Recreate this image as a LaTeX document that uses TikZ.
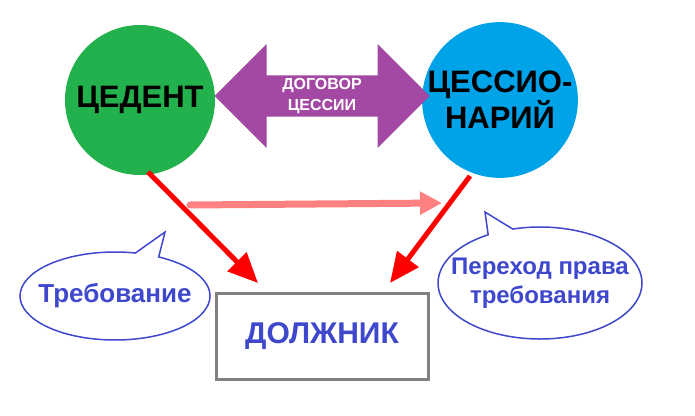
\documentclass[tikz,border=0pt]{standalone}
\usepackage{fontspec}
\setmainfont{Liberation Sans}
\usetikzlibrary{shapes.callouts,shapes.arrows,arrows.meta}
\definecolor{cgreen}{HTML}{22B14C}
\definecolor{cblue}{HTML}{00A2E8}
\definecolor{cpurple}{HTML}{A349A4}
\definecolor{ctext}{HTML}{3F48CC}
\definecolor{cpink}{HTML}{FF8080}
\tikzset{
 party/.style={circle,minimum size=150pt,inner sep=0pt,align=center,font=\bfseries\fontsize{31}{36}\selectfont},
 redarrow/.style={red,line width=5pt,-{Triangle[length=30pt,width=26pt]}},
 bubble/.style={ellipse callout,draw=ctext,line width=1.5pt,text=ctext,align=center,font=\bfseries\fontsize{26}{30}\selectfont,inner xsep=-18pt,inner ysep=-6pt}
}
\begin{document}
\begin{tikzpicture}[x=1pt,y=-1pt]
\useasboundingbox[fill=white] (0,0) rectangle (695,415);
\node[party,fill=cgreen] (ced) at (140,100) {ЦЕДЕНТ};
\node[party,fill=cblue] (ces) at (500,100) {ЦЕССИО-\\НАРИЙ};
\node[double arrow,fill=cpurple,minimum width=104pt,minimum height=215pt,double arrow head extend=27pt,inner sep=0pt,text=white,align=center,font=\bfseries\fontsize{16}{21}\selectfont] (dog) at (322,96) {ДОГОВОР\\ЦЕССИИ};
\node[draw=gray,line width=3pt,minimum width=212pt,minimum height=86pt,text=ctext,font=\bfseries\fontsize{30}{34}\selectfont] (dol) at (322,336) {ДОЛЖНИК};
\coordinate (p1) at (190,205);
\coordinate (p2) at (442,203);
\draw[cpink,line width=7pt,line cap=round,-{Triangle[length=22pt,width=22pt]}] (p1) -- (p2);
\coordinate (a1) at (148,172);
\coordinate (a2) at (258,283);
\coordinate (b1) at (470,176);
\coordinate (b2) at (390,283);
\draw[redarrow] (a1) -- (a2);
\draw[redarrow] (b1) -- (b2);
\node[bubble,minimum width=190pt,minimum height=88pt,callout absolute pointer={(165,232)}] (t1) at (115,296) {Требование};
\node[bubble,minimum width=204pt,minimum height=112pt,callout absolute pointer={(485,212)},font=\bfseries\fontsize{24}{29}\selectfont] (t2) at (540,283) {Переход права\\требования};
\end{tikzpicture}
\end{document}
